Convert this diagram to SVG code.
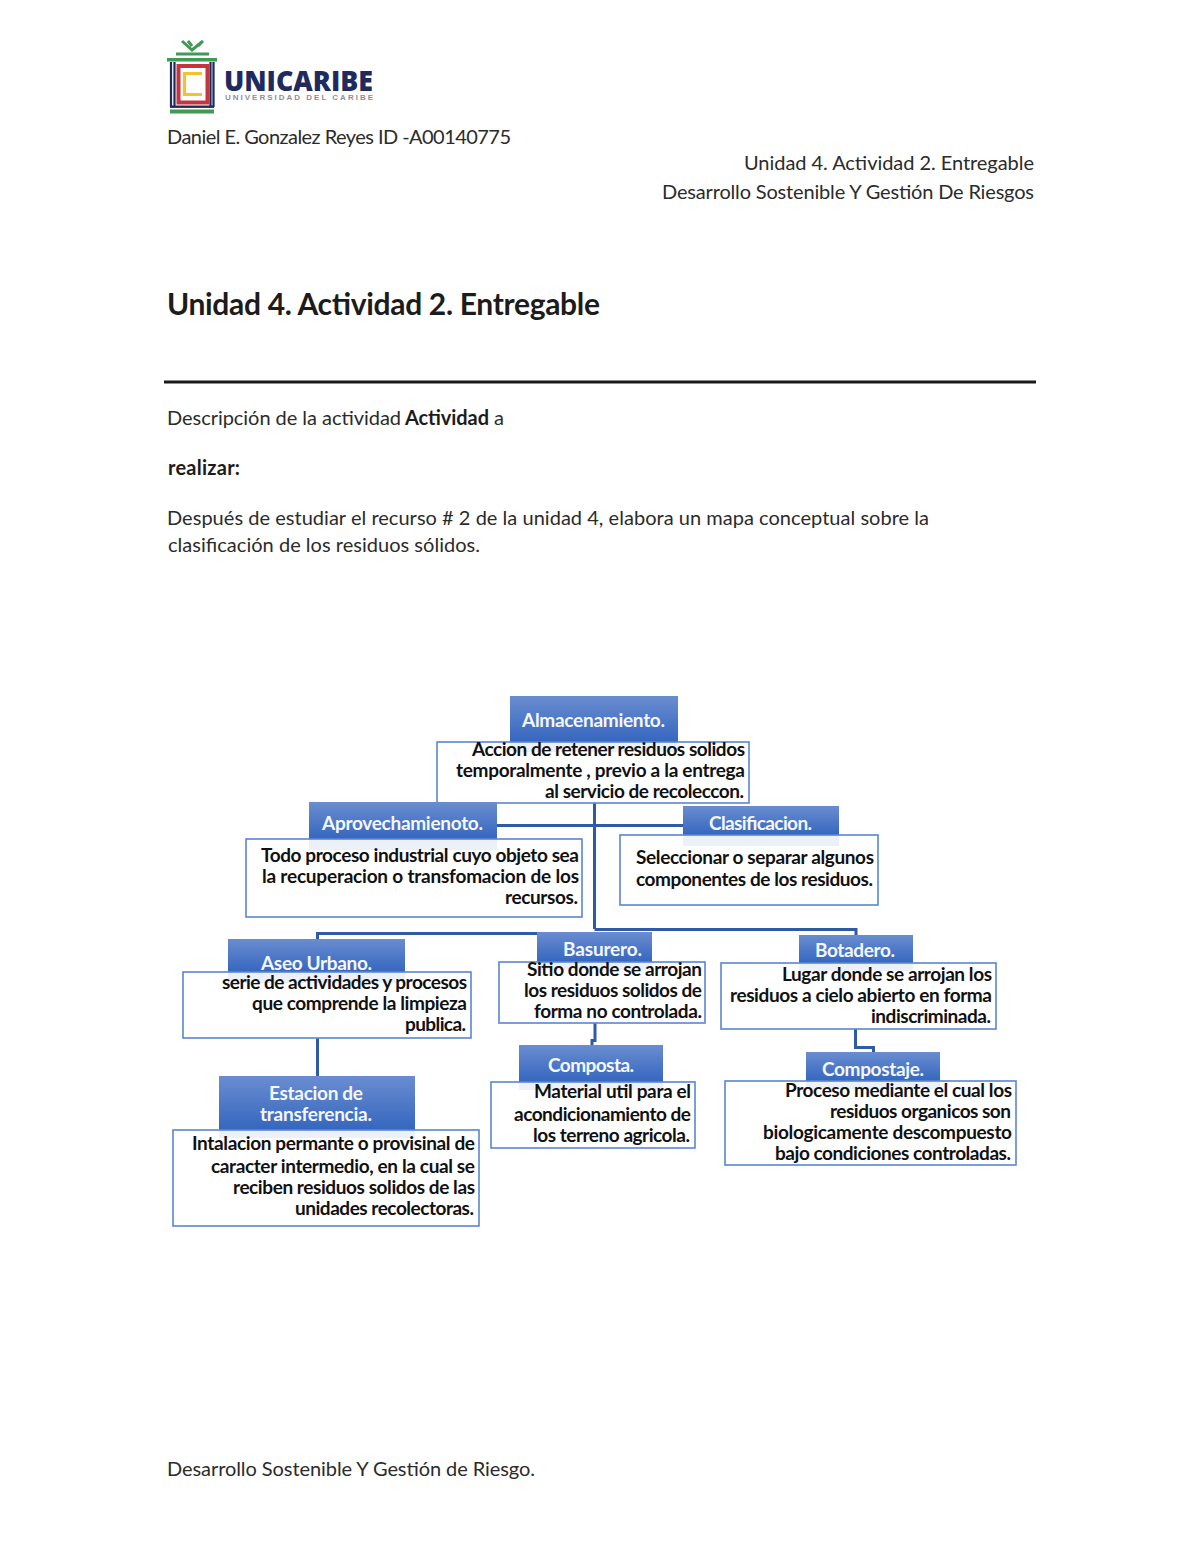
<svg xmlns="http://www.w3.org/2000/svg" width="1200" height="1553" viewBox="0 0 1200 1553">
<style>
text{font-family:"Lato","Open Sans","Liberation Sans",sans-serif;fill:#2b2b2b;font-size:20px}
.b{font-weight:700;fill:#1c1c1c}
.t{font-weight:700;fill:#111;font-size:19px}
.h{font-weight:700;fill:#f4f7fd;font-size:19px}
.hd{fill:url(#g)}
.ext{fill:#3566bf}
.bx{fill:#fff;fill-opacity:.9;stroke:#5a86d2;stroke-width:1.6}
.c{fill:none;stroke:#2f5ba6;stroke-width:3}
</style>
<defs>
<linearGradient id="g" x1="0" y1="0" x2="0" y2="1"><stop offset="0" stop-color="#6a8dd0"/><stop offset="1" stop-color="#3566bf"/></linearGradient>
</defs>
<rect width="1200" height="1553" fill="#fff"/>
<g id="logo">
<path d="M182 41L192 50L203 41M188 41L192 46M198 46L203 41" fill="none" stroke="#3f9a55" stroke-width="3"/>
<rect x="176" y="52.500" width="33" height="3" fill="#3f9a55"/>
<rect x="167" y="58" width="50" height="3.500" fill="#3f9a55"/>
<path d="M171 62V107M174.500 62V107M210.500 62V107M213.500 62V107" fill="none" stroke="#1e2a5c" stroke-width="2.200"/>
<rect x="170" y="105.500" width="44" height="2.400" fill="#1e2a5c"/>
<rect x="170" y="109.500" width="44" height="4" fill="#3f9a55"/>
<rect x="178.500" y="66" width="29" height="36.500" fill="none" stroke="#c5363c" stroke-width="4"/>
<path d="M202 73.500H184.500V94.500H202" fill="none" stroke="#f2c230" stroke-width="3.200"/>
<text x="224" y="91" textLength="149" lengthAdjust="spacingAndGlyphs" style="font-size:29px;font-weight:900;fill:#1f2a5e;font-family:'Open Sans','Liberation Sans',sans-serif">UNICARIBE</text>
<text x="225" y="100" textLength="148" lengthAdjust="spacing" style="font-size:8px;font-weight:700;fill:#8e8f96;font-family:'Liberation Sans',sans-serif">UNIVERSIDAD DEL CARIBE</text>
</g>
<g id="page-text">
<text x="167" y="144" textLength="344">Daniel E. Gonzalez Reyes ID -A00140775</text>
<text x="744" y="170" textLength="290">Unidad 4. Actividad 2. Entregable</text>
<text x="662" y="199" textLength="372">Desarrollo Sostenible Y Gestión De Riesgos</text>
<text class="b" x="167" y="315" textLength="433" style="font-size:30px">Unidad 4. Actividad 2. Entregable</text>
<rect x="164" y="380.500" width="872" height="3" fill="#1a1a1a"/>
<text x="167" y="425" textLength="234">Descripción de la actividad</text>
<text class="b" x="405" y="425" textLength="84">Actividad</text>
<text x="494" y="425">a</text>
<text class="b" x="168" y="475" textLength="72">realizar:</text>
<text x="167" y="525" textLength="762">Después de estudiar el recurso # 2 de la unidad 4, elabora un mapa conceptual sobre la</text>
<text x="168" y="552" textLength="312">clasificación de los residuos sólidos.</text>
<text x="167" y="1476" textLength="368">Desarrollo Sostenible Y Gestión de Riesgo.</text>
</g>
<g id="connectors">
<path class="c" d="M594.500 803V929M497 825.500H683"/>
<path class="c" d="M594.500 929.500H856V936"/>
<path class="c" d="M594.500 933.500H317.500V940"/>
<path class="c" d="M317.500 1038V1077"/>
<path class="c" d="M595 1023V1040.500H592V1046"/>
<path class="c" d="M855.500 1029V1047.500H873.500V1053"/>
</g>
<g id="almacenamiento">
<rect class="hd" x="510" y="696" width="168" height="46"/><rect class="ext" x="510" y="742" width="168" height="10"/>
<rect class="bx" x="437" y="742" width="312" height="61"/>
<text class="h" x="522" y="727" textLength="143">Almacenamiento.</text>
<text class="t" x="472" y="756" textLength="273">Accion de retener residuos solidos</text>
<text class="t" x="456" y="777" textLength="289">temporalmente , previo a la entrega</text>
<text class="t" x="545" y="798" textLength="199">al servicio de recoleccon.</text>
</g>
<g id="aprovechamienoto">
<rect class="hd" x="309" y="802" width="188" height="37"/><rect class="ext" x="309" y="839" width="188" height="11"/>
<rect class="bx" x="246" y="839" width="336" height="78"/>
<text class="h" x="322" y="830" textLength="161">Aprovechamienoto.</text>
<text class="t" x="261" y="862" textLength="318">Todo proceso industrial cuyo objeto sea</text>
<text class="t" x="262" y="883" textLength="317">la recuperacion o transfomacion de los</text>
<text class="t" x="505" y="904" textLength="73">recursos.</text>
</g>
<g id="clasificacion">
<rect class="hd" x="683" y="806" width="156" height="29"/><rect class="ext" x="683" y="835" width="156" height="11"/>
<rect class="bx" x="620" y="835" width="258" height="70"/>
<text class="h" x="709" y="830" textLength="103">Clasificacion.</text>
<text class="t" x="636" y="864" textLength="238">Seleccionar o separar algunos</text>
<text class="t" x="636" y="886" textLength="237">componentes de los residuos.</text>
</g>
<g id="aseo-urbano">
<rect class="hd" x="228" y="939" width="177" height="33"/><rect class="ext" x="228" y="972" width="177" height="11"/>
<rect class="bx" x="183" y="972" width="288" height="66"/>
<text class="h" x="261" y="970" textLength="111">Aseo Urbano.</text>
<text class="t" x="222" y="989" textLength="245">serie de actividades y procesos</text>
<text class="t" x="252" y="1010" textLength="215">que comprende la limpieza</text>
<text class="t" x="405" y="1031" textLength="61">publica.</text>
</g>
<g id="basurero">
<rect class="hd" x="537" y="932" width="115" height="30"/><rect class="ext" x="537" y="962" width="115" height="8"/>
<rect class="bx" x="499" y="962" width="206" height="61"/>
<text class="h" x="563" y="956" textLength="79">Basurero.</text>
<text class="t" x="527" y="976" textLength="175">Sitio donde se arrojan</text>
<text class="t" x="524" y="997" textLength="178">los residuos solidos de</text>
<text class="t" x="534" y="1018" textLength="168">forma no controlada.</text>
</g>
<g id="botadero">
<rect class="hd" x="799" y="935" width="114" height="28"/><rect class="ext" x="799" y="963" width="114" height="8"/>
<rect class="bx" x="721" y="963" width="275" height="66"/>
<text class="h" x="815" y="957" textLength="80">Botadero.</text>
<text class="t" x="782" y="981" textLength="210">Lugar donde se arrojan los</text>
<text class="t" x="730" y="1002" textLength="262">residuos a cielo abierto en forma</text>
<text class="t" x="871" y="1023" textLength="120">indiscriminada.</text>
</g>
<g id="estacion">
<rect class="hd" x="219" y="1076" width="196" height="54"/><rect class="ext" x="219" y="1130" width="196" height="8"/>
<rect class="bx" x="173" y="1130" width="306" height="96"/>
<text class="h" x="269" y="1100" textLength="94">Estacion de</text>
<text class="h" x="260" y="1121" textLength="112">transferencia.</text>
<text class="t" x="192" y="1150" textLength="283">Intalacion permante o provisinal de</text>
<text class="t" x="211" y="1173" textLength="264">caracter intermedio, en la cual se</text>
<text class="t" x="233" y="1194" textLength="242">reciben residuos solidos de las</text>
<text class="t" x="295" y="1215" textLength="179">unidades recolectoras.</text>
</g>
<g id="composta">
<rect class="hd" x="519" y="1045" width="144" height="37"/><rect class="ext" x="519" y="1082" width="144" height="8"/>
<rect class="bx" x="491" y="1082" width="204" height="66"/>
<text class="h" x="548" y="1072" textLength="86">Composta.</text>
<text class="t" x="534" y="1098" textLength="157">Material util para el</text>
<text class="t" x="514" y="1121" textLength="177">acondicionamiento de</text>
<text class="t" x="533" y="1142" textLength="157">los terreno agricola.</text>
</g>
<g id="compostaje">
<rect class="hd" x="806" y="1052" width="134" height="29"/><rect class="ext" x="806" y="1081" width="134" height="8"/>
<rect class="bx" x="725" y="1081" width="291" height="84"/>
<text class="h" x="822" y="1076" textLength="102">Compostaje.</text>
<text class="t" x="785" y="1097" textLength="227">Proceso mediante el cual los</text>
<text class="t" x="830" y="1118" textLength="181">residuos organicos son</text>
<text class="t" x="763" y="1139" textLength="249">biologicamente descompuesto</text>
<text class="t" x="775" y="1160" textLength="236">bajo condiciones controladas.</text>
</g>
</svg>
